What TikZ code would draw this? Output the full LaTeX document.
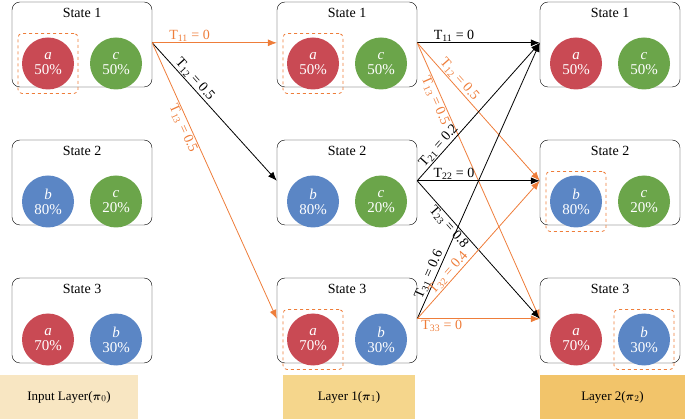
\documentclass[tikz,border=0pt]{standalone}
\usepackage{amsmath}
\usepackage{fontspec}
\setmainfont{Liberation Serif}
\usetikzlibrary{arrows.meta}
\usetikzlibrary{calc}
\usetikzlibrary{positioning}
\definecolor{ored}{HTML}{C94A54}
\definecolor{ogreen}{HTML}{6BA54A}
\definecolor{oblue}{HTML}{5B86C5}
\definecolor{oorange}{HTML}{EE7D3A}
\definecolor{barA}{HTML}{F8E6C2}
\definecolor{barB}{HTML}{F5D68C}
\definecolor{barC}{HTML}{F2C46A}
\tikzset{
state/.style={draw, rounded corners=8pt, minimum width=140pt, minimum height=85pt,
  inner sep=0pt},
ball/.style={circle, minimum size=52pt, inner sep=0pt, text=white, align=center,
  font=\fontsize{15}{15}\selectfont},
pick/.style={draw=oorange, dashed, line width=0.8pt, rounded corners=4pt, minimum size=60pt, inner sep=0pt},
bar/.style={minimum width=138pt, minimum height=44pt, inner sep=0pt,
  font=\fontsize{13}{13}\selectfont},
trans/.style={-{Latex[length=9pt,width=7pt]}, line width=0.8pt},
tlab/.style={font=\fontsize{14}{14}\selectfont, inner sep=1pt},
}
\begin{document}
\begin{tikzpicture}[x=1pt,y=-1pt]
  \useasboundingbox (0,0) rectangle (685,419);

  % states
  \foreach \c/\x in {A/82,B/347,C/610}{
    \node [state] (\c1) at (\x,44.5) {};
    \node [state] (\c2) at (\x,182.5) {};
    \node [state] (\c3) at (\x,320.5) {};
  }
  \foreach \n in {A1,A2,A3,B1,B2,B3,C1,C2,C3}{
    \coordinate (\n o) at ($(\n.north east)+(0,41)$);
    \coordinate (\n i) at ($(\n.north west)+(0,41)$);
  }
  \foreach \c in {A,B,C}{
    \node [below=5pt of \c1.north, tlab] {State 1};
    \node [below=5pt of \c2.north, tlab] {State 2};
    \node [below=5pt of \c3.north, tlab] {State 3};
    \node [ball, fill=ored]   (\c1l) at ($(\c1.center)+(-34,19)$) {\textit{a}\\50\%};
    \node [ball, fill=ogreen] (\c1r) at ($(\c1.center)+(34,19)$) {\textit{c}\\50\%};
    \node [ball, fill=oblue]  (\c2l) at ($(\c2.center)+(-34,19)$) {\textit{b}\\80\%};
    \node [ball, fill=ogreen] (\c2r) at ($(\c2.center)+(34,19)$) {\textit{c}\\20\%};
    \node [ball, fill=ored]   (\c3l) at ($(\c3.center)+(-34,19)$) {\textit{a}\\70\%};
    \node [ball, fill=oblue]  (\c3r) at ($(\c3.center)+(34,19)$) {\textit{b}\\30\%};
  }
  % chosen states
  \node [pick] at (A1l) {};
  \node [pick] at (B1l) {};
  \node [pick] at (B3l) {};
  \node [pick] at (C2l) {};
  \node [pick] at (C3r) {};

  % input layer -> layer 1
  \draw [trans, oorange] (A1o) -- node [tlab, above, pos=0.3] {T\textsubscript{11} = 0} (B1i);
  \draw [trans] (A1o) -- node [tlab, above, sloped, pos=0.3] {T\textsubscript{12} = 0.5} (B2i);
  \draw [trans, oorange] (A1o) -- node [tlab, below, sloped, pos=0.3] {T\textsubscript{13} = 0.5} (B3i);

  % layer 1 -> layer 2
  \draw [trans] (B1o) -- node [tlab, above, pos=0.3] {T\textsubscript{11} = 0} (C1i);
  \draw [trans, oorange] (B1o) -- node [tlab, above, sloped, pos=0.3] {T\textsubscript{12} = 0.5} (C2i);
  \draw [trans, oorange] (B1o) -- node [tlab, below, sloped, pos=0.2] {T\textsubscript{13} = 0.5} (C3i);
  \draw [trans] (B2o) -- node [tlab, above, sloped, pos=0.22] {T\textsubscript{21} = 0.2} (C1i);
  \draw [trans] (B2o) -- node [tlab, above, pos=0.3] {T\textsubscript{22} = 0} (C2i);
  \draw [trans] (B2o) -- node [tlab, below, sloped, pos=0.3] {T\textsubscript{23} = 0.8} (C3i);
  \draw [trans] (B3o) -- node [tlab, above, sloped, pos=0.15] {T\textsubscript{31} = 0.6} (C1i);
  \draw [trans, oorange] (B3o) -- node [tlab, above, sloped, pos=0.3] {T\textsubscript{32} = 0.4} (C2i);
  \draw [trans, oorange] (B3o) -- node [tlab, below, pos=0.2] {T\textsubscript{33} = 0} (C3i);

  % layer bars
  \node [bar, fill=barA] (inlayer) at (69,397) {Input Layer($\boldsymbol{\pi}_0$)};
  \node [bar, fill=barB, minimum width=132pt] (layer1) at (349,397) {Layer 1($\boldsymbol{\pi}_1$)};
  \node [bar, fill=barC, minimum width=145pt] (layer2) at (612.5,397) {Layer 2($\boldsymbol{\pi}_2$)};
\end{tikzpicture}
\end{document}
